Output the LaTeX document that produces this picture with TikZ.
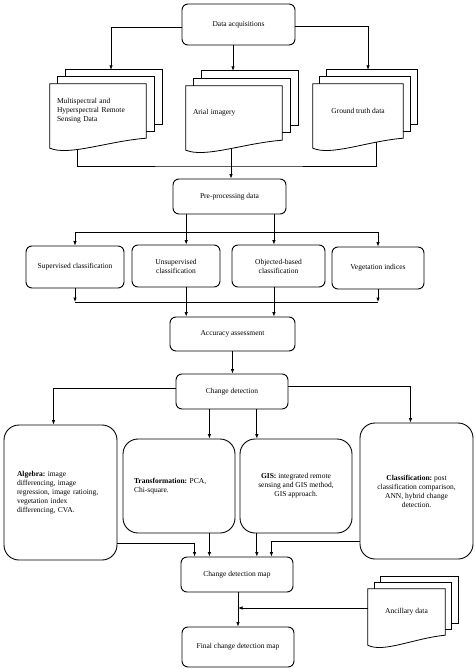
\documentclass[tikz,border=0pt]{standalone}
\usepackage{fontspec}
\setmainfont{Liberation Serif}
\usetikzlibrary{calc,arrows.meta,backgrounds}
\frenchspacing
\tikzset{
  lbl/.style={font=\fontsize{7.5}{9}\selectfont},
  box/.style={draw, line width=0.9pt, rounded corners=6pt, align=center, inner sep=2pt, lbl},
  bigbox/.style={box, rounded corners=15pt},
  docpage/.style={lbl, inner sep=0pt},
  conn/.style={line width=0.7pt},
  arr/.style={conn, -{Latex[length=4.5pt,width=3.5pt]}},
  pageline/.style={line width=0.8pt, fill=white},
}
\newcommand\docstack[3]{%
  \draw[pageline] ($(#1.north west)+(2*#2,-2*#3)$) rectangle ($(#1.south east)+(2*#2,-2*#3)$);
  \draw[pageline] ($(#1.north west)+(#2,-#3)$) rectangle ($(#1.south east)+(#2,-#3)$);
  \draw[pageline] (#1.north west) -- (#1.north east) -- (#1.south east)
     .. controls ($(#1.south east)!0.4!(#1.south west)+(0,3)$) and ($(#1.south east)!0.8!(#1.south west)+(0,18)$)
     .. ($(#1.south west)+(0,10)$) -- cycle;
}
\begin{document}
\frenchspacing
\begin{tikzpicture}[x=1pt,y=-1pt]
\useasboundingbox (0,0) rectangle (474,669);

% nodes
\node[box, minimum width=113pt, minimum height=41pt] (acq) at (238.5,24.5) {Data acquisitions};
\node[docpage, minimum width=96pt, minimum height=54pt, text width=82pt, align=left] (ms) at (98,111) {Multispectral and\\Hyperspectral Remote\\Sensing Data};
\node[docpage, minimum width=96pt, minimum height=54pt, text width=82pt, align=left] (ai) at (234,113) {Arial imagery};
\node[docpage, minimum width=90pt, minimum height=54pt, align=center] (gt) at (358,111) {Ground truth data};
\node[box, minimum width=113pt, minimum height=35pt] (pre) at (229.5,196.5) {Pre-processing data};
\node[box, minimum width=98pt, minimum height=42pt] (sup) at (75,267) {Supervised classification};
\node[box, minimum width=88pt, minimum height=42pt] (uns) at (176,266) {Unsupervised\\classification};
\node[box, minimum width=93pt, minimum height=42pt] (obj) at (278.5,266) {Objected-based\\classification};
\node[box, minimum width=92pt, minimum height=42pt] (veg) at (378,268) {Vegetation indices};
\node[box, minimum width=125pt, minimum height=34pt] (acc) at (232.5,334) {Accuracy assessment};
\node[box, minimum width=112pt, minimum height=35pt] (chg) at (232,391.5) {Change detection};
\node[bigbox, minimum width=113pt, minimum height=135pt, text width=87pt, inner xsep=13pt, align=left] (alg) at (60.5,492.5)
  {\textbf{Algebra:} image\\differencing, image\\regression, image ratioing,\\vegetation index\\differencing, CVA.};
\node[bigbox, minimum width=112pt, minimum height=94pt, text width=90pt, inner xsep=11pt, align=left] (tra) at (179,486)
  {\textbf{Transformation:} PCA,\\Chi-square.};
\node[bigbox, minimum width=112pt, minimum height=94pt] (gis) at (296,486)
  {\textbf{GIS:} integrated remote\\sensing and GIS method,\\GIS approach.};
\node[bigbox, minimum width=113pt, minimum height=136pt] (cls) at (416.5,491)
  {\textbf{Classification:} post\\classification comparison,\\ANN, hybrid change\\detection.};
\node[box, minimum width=112pt, minimum height=35pt] (map) at (237,574.5) {Change detection map};
\node[box, minimum width=112pt, minimum height=40pt] (fin) at (238,647) {Final change detection map};
\node[docpage, minimum width=77pt, minimum height=46pt, align=center] (anc) at (406.5,612) {Ancillary data};

% connectors under the document pages
\begin{scope}[on background layer]
  \coordinate (j1) at (231,166);
  \draw[conn] ($(ms.south)!0.42!(ms.south west)$) |- (j1) -| ($(gt.south)!0.4!(gt.south east)$);
  \draw[arr] (ai.south -| j1) -- (j1 |- pre.north);
  \docstack{ms}{8}{7}
  \docstack{ai}{8}{7.5}
  \docstack{gt}{7}{7}
  \docstack{anc}{6.5}{6}
\end{scope}

% data acquisitions to documents
\draw[arr] ($(acq.west)+(0,3)$) -| ($(ms.north)+(13,-14)$);
\coordinate (aiT) at ($(ai.north)+(-1,-15)$);
\draw[arr] (acq.south -| aiT) -- (aiT);
\draw[arr] ($(acq.east)+(0,2)$) -| ($(gt.north)+(10,-14)$);

% pre-processing to classifications
\coordinate (p1) at ($(pre.south west)!0.12!(pre.south east)$);
\coordinate (p2) at ($(pre.south west)!0.89!(pre.south east)$);
\draw[arr] (p1) -- (p1 |- uns.north);
\draw[arr] (p2) -- (p2 |- obj.north);
\coordinate (j2) at (229.5,232);
\draw[arr] (j2) -| (sup.north);
\draw[arr] (j2) -| (veg.north);

% classifications to accuracy
\coordinate (j3) at (232.5,302);
\draw[arr] (sup.south) -- (sup.south |- j3);
\draw[arr] (veg.south) -- (veg.south |- j3);
\draw[conn] (sup.south |- j3) -- (veg.south |- j3);
\draw[arr] (p1 |- uns.south) -- (p1 |- acc.north);
\draw[arr] (p2 |- obj.south) -- (p2 |- acc.north);

% accuracy to change detection
\draw[arr] (acc.south) -- (acc.south |- chg.north);

% change detection to methods
\draw[arr] ($(chg.west)+(0,-3)$) -| ($(alg.north)+(-7,0)$);
\draw[arr] ($(chg.east)+(0,-5)$) -| ($(cls.north)+(-6,0)$);
\coordinate (q1) at ($(chg.south west)!0.3!(chg.south east)$);
\coordinate (q2) at ($(chg.south west)!0.72!(chg.south east)$);
\draw[arr] (q1) -- (q1 |- tra.north);
\draw[arr] (q2) -- (q2 |- gis.north);

% methods to change detection map
\draw[arr] (q1 |- tra.south) -- (q1 |- map.north);
\draw[arr] (q2 |- gis.south) -- (q2 |- map.north);
\draw[arr] ($(alg.east)+(0,50.5)$) -| ($(map.north west)+(14,0)$);
\draw[arr] ($(cls.west)+(0,50)$) -| ($(map.north east)+(-22,0)$);

% map to final, ancillary data
\draw[arr] (map.south -| fin.north) -- (fin.north);
\coordinate (ancin) at ($(anc.west)+(0,-4)$);
\draw[arr] (ancin) -- (ancin -| fin.north);
\end{tikzpicture}
\end{document}
